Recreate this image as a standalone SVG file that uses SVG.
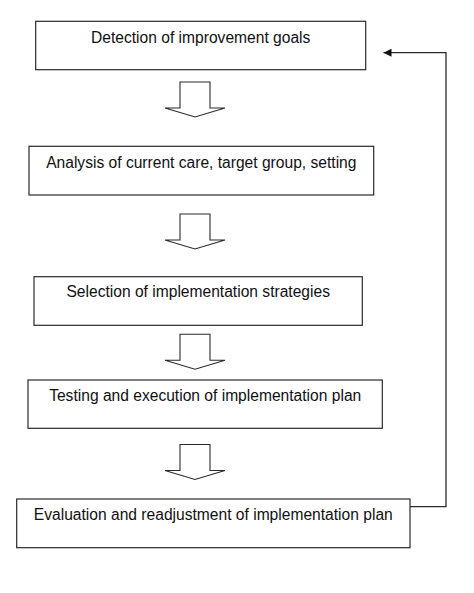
<svg xmlns="http://www.w3.org/2000/svg" width="474" height="593" viewBox="0 0 474 593">
<style>
.box{fill:#fff;stroke:#2a2a2a;stroke-width:1.2}
.blk{fill:#fff;stroke:#2a2a2a;stroke-width:1.1;stroke-linejoin:miter}
.lbl{font-family:"Liberation Sans",Arial,sans-serif;font-size:15.6px;fill:#111;text-anchor:middle}
.conn{fill:none;stroke:#2a2a2a;stroke-width:1.3}
</style>
<defs>
<marker id="ah" viewBox="0 0 10 10" refX="10" refY="5" markerWidth="10" markerHeight="8" markerUnits="userSpaceOnUse" orient="auto">
<path d="M0,0 L10,5 L0,10 Z" fill="#111"/>
</marker>
<path id="blk" d="M-15,0 H15 V26 H30 L0,35 L-30,26 H-15 Z"/>
</defs>
<rect width="474" height="593" fill="#fff"/>
<g id="n1"><rect class="box" x="35.7" y="21.3" width="330" height="48.4"/><text class="lbl" x="200.7" y="42.5">Detection of improvement goals</text></g>
<g id="n2"><rect class="box" x="29" y="146.3" width="344.7" height="48.7"/><text class="lbl" x="201.3" y="167.8">Analysis of current care, target group, setting</text></g>
<g id="n3"><rect class="box" x="34" y="276.7" width="328.3" height="48.6"/><text class="lbl" x="198.2" y="297.4">Selection of implementation strategies</text></g>
<g id="n4"><rect class="box" x="28" y="380" width="354.3" height="48.3"/><text class="lbl" x="205.2" y="400.8">Testing and execution of implementation plan</text></g>
<g id="n5"><rect class="box" x="16.7" y="499" width="393.3" height="48.7"/><text class="lbl" x="213.3" y="520.2">Evaluation and readjustment of implementation plan</text></g>
<g id="connectors">
<use href="#blk" class="blk" transform="translate(195,82)"/>
<use href="#blk" class="blk" transform="translate(195,214)"/>
<use href="#blk" class="blk" transform="translate(195,334.3)"/>
<use href="#blk" class="blk" transform="translate(195,444.5)"/>
<path class="conn" d="M410,506.7 H446 V52.7 H383.5" marker-end="url(#ah)"/>
</g>
</svg>
